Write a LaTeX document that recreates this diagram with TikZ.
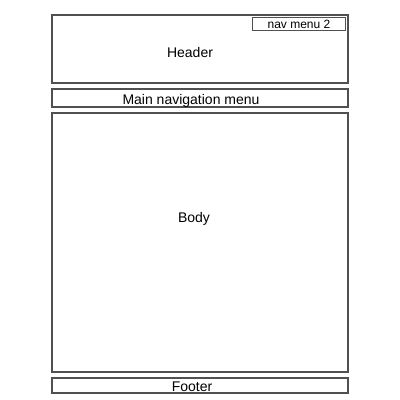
\documentclass[tikz,border=0pt]{standalone}
\usepackage{fontspec}
\setmainfont{Liberation Sans}
\usepackage{tikz}
\usetikzlibrary{positioning}
\definecolor{boxgray}{HTML}{505050}
\tikzset{%
	region/.style   = {draw=boxgray, line width=2pt, rectangle, inner sep=0pt}, % Page region
	navbox/.style   = {draw=boxgray, line width=1pt, rectangle, inner sep=0pt}, % Small menu
	caption/.style  = {inner sep=0pt, font=\fontsize{14}{16}\selectfont}, % Region text
	smallcap/.style = {inner sep=0pt, font=\fontsize{12}{14}\selectfont}, % Menu text
}
\begin{document}
\begin{tikzpicture}[x=1pt, y=-1pt]
		\useasboundingbox (0,0) rectangle (400,400);
		\node[region, minimum width=296pt, minimum height=68pt] (header) at (200,49) {};
		\node[caption] (headertext) at (190,52) {Header};
		\node[navbox, minimum width=92.5pt, minimum height=12.7pt] (nav2) at (299,24.2) {};
		\node[smallcap] (nav2text) at (299,24.4) {nav menu 2};
		\node[region, minimum width=296pt, minimum height=17.4pt] (mainnav) at (200,98) {};
		\node[caption] (mainnavtext) at (191,100.5) {Main navigation menu};
		\node[region, minimum width=296pt, minimum height=258.7pt] (body) at (200,242.7) {};
		\node[caption] (bodytext) at (194,218.5) {Body};
		\node[region, minimum width=296pt, minimum height=15.6pt] (footer) at (200,385.5) {};
		\node[caption] (footertext) at (192,387) {Footer};
\end{tikzpicture}
\end{document}
